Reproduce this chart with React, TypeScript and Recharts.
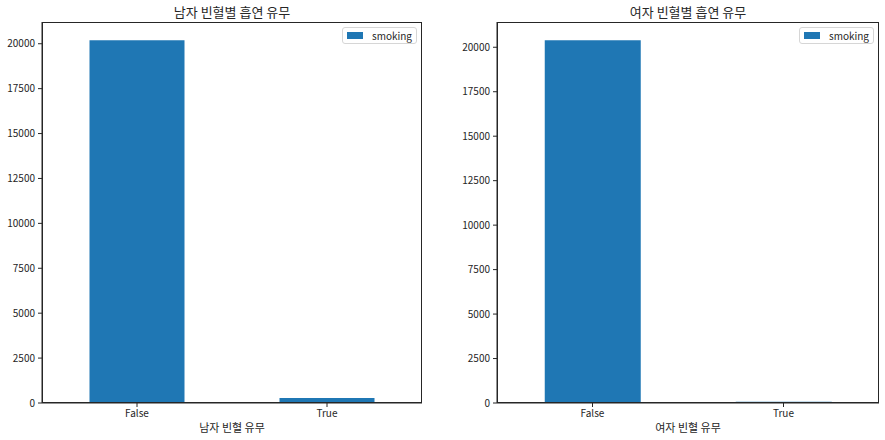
import React from 'react'
import { BarChart, Bar, XAxis, YAxis } from 'recharts'

// anemia flag categories
const categories = ['False', 'True']

// smoking counts per anemia flag
const maleSmoking = [20200, 280]
const femaleSmoking = [20400, 70]

const yTicks = [0, 2500, 5000, 7500, 10000, 12500, 15000, 17500, 20000]

const maleTitle = '남자 빈혈별 흡연 유무'
const femaleTitle = '여자 빈혈별 흡연 유무'
const maleXLabel = '남자 빈혈 유무'
const femaleXLabel = '여자 빈혈 유무'
const seriesName = 'smoking'

const FONT = '"Noto Sans CJK KR", "Noto Sans", sans-serif'
const BLUE = '#1f77b4'
const INK = '#262626'

const PLOT_TOP = 22
const PLOT_BOTTOM = 403

const LegendBox = ({ left }: { left: number }) => (
  <div
    style={{
      position: 'absolute',
      left,
      top: 27,
      display: 'flex',
      alignItems: 'center',
      border: '1px solid #d6d6d6',
      borderRadius: 3,
      background: '#fff',
      height: 17,
      width: 75,
      boxSizing: 'border-box',
      padding: '0 4px',
      fontFamily: FONT,
      fontSize: 10,
      color: INK,
    }}
  >
    <span style={{ display: 'inline-block', width: 20, height: 7, background: BLUE, marginRight: 9 }} />
    <span>{seriesName}</span>
  </div>
)

type PanelProps = {
  values: number[]
  title: string
  xLabel: string
  left: number
  width: number
  axisWidth: number
  rightMargin: number
}

function Panel({ values, title, xLabel, left, width, axisWidth, rightMargin }: PanelProps) {
  const data = categories.map((name, i) => ({ name, smoking: values[i] }))
  const top = Math.max(...values) * 1.05
  const plotLeft = axisWidth
  const plotWidth = width - axisWidth - rightMargin
  const tickStyle = { fontSize: 10, fill: INK, fontFamily: FONT }

  return (
    <div style={{ position: 'absolute', left, top: 0, width, height: 440 }}>
      <div
        style={{
          position: 'absolute',
          left: plotLeft,
          width: plotWidth,
          top: 2,
          textAlign: 'center',
          fontFamily: FONT,
          fontSize: 13,
          color: INK,
        }}
      >
        {title}
      </div>
      <BarChart
        width={width}
        height={440}
        data={data}
        margin={{ top: PLOT_TOP, right: rightMargin, left: 0, bottom: 0 }}
        barCategoryGap="25%"
      >
        <XAxis
          dataKey="name"
          stroke={INK}
          tickSize={4}
          tickMargin={3}
          tick={tickStyle}
          height={440 - PLOT_BOTTOM}
          label={{ value: xLabel, position: 'insideBottom', offset: 8, fontSize: 11, fill: INK, fontFamily: FONT }}
        />
        <YAxis
          type="number"
          domain={[0, top]}
          ticks={yTicks}
          stroke={INK}
          tickSize={4}
          tickMargin={3}
          tick={tickStyle}
          width={axisWidth}
          allowDataOverflow
        />
        <Bar dataKey="smoking" name={seriesName} fill={BLUE} isAnimationActive={false} />
      </BarChart>
      {/* axes frame (matplotlib spines) */}
      <div
        style={{
          position: 'absolute',
          left: plotLeft,
          top: PLOT_TOP,
          width: plotWidth,
          height: PLOT_BOTTOM - PLOT_TOP,
          border: `1px solid ${INK}`,
          boxSizing: 'border-box',
          pointerEvents: 'none',
          marginTop: -0.5,
          marginLeft: -0.5,
        }}
      />
      <LegendBox left={width - rightMargin - 80} />
    </div>
  )
}

export default function App() {
  return (
    <div style={{ position: 'absolute', left: 0, top: 0, width: 885, height: 440, background: '#fff' }}>
      <Panel values={maleSmoking} title={maleTitle} xLabel={maleXLabel} left={0} width={440} axisWidth={42} rightMargin={18} />
      <Panel values={femaleSmoking} title={femaleTitle} xLabel={femaleXLabel} left={440} width={445} axisWidth={57} rightMargin={6} />
    </div>
  )
}
